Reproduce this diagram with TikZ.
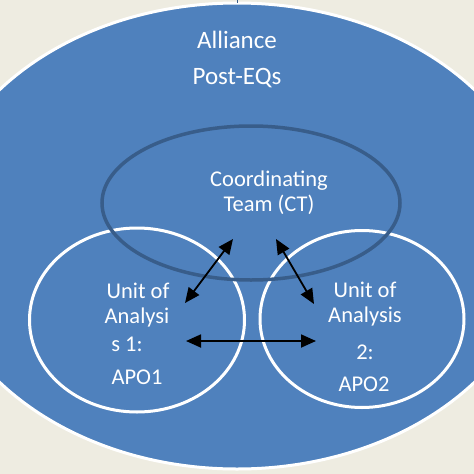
\documentclass[tikz,border=0pt]{standalone}
\usepackage{fontspec}
\setmainfont{Carlito}
\usetikzlibrary{shapes.geometric,arrows.meta}

\definecolor{bgtan}{HTML}{EEECE1}
\definecolor{ablue}{HTML}{4F81BD}
\definecolor{ctblue}{HTML}{385D8A}

\tikzset{
	oval/.style={ellipse, inner sep=0pt, outer sep=0pt, line width=3pt},
	lbl/.style={text=white, font=\fontsize{22.5}{25}\selectfont, text height=15pt, text depth=4pt, inner sep=0pt},
	biglbl/.style={lbl, font=\fontsize{25}{28}\selectfont, text height=17pt, text depth=5pt},
	link/.style={line width=1.8pt, {Triangle[length=15pt,width=13pt]}-{Triangle[length=15pt,width=13pt]}}
}

\begin{document}
\begin{tikzpicture}[x=1pt,y=-1pt]
	
	\useasboundingbox (0,0) rectangle (474,474);
	\clip (0,0) rectangle (474,474);
	\fill[bgtan] (0,0) rectangle (474,474);
	
	\draw[white, fill=ablue, line width=3pt] (237,236) ellipse [x radius=305, y radius=233];
	\coordinate (alltop) at (237,3);
	\draw[ctblue, line width=0.8pt] (237,0) -- (alltop);
	\node[biglbl] (all1) at (237,42) {Alliance}; \node[biglbl] (all2) at (237,78) {Post-EQs};
	
	\node[oval, draw=white, minimum width=215pt, minimum height=184pt] (unit1) at (137,320) {};
	\node[oval, draw=white, minimum width=204pt, minimum height=177pt] (unit2) at (362,319) {};
	\node[oval, draw=ctblue, line width=3.5pt, minimum width=298pt, minimum height=154pt] (ct) at (251,203) {};
	
	\node[lbl, align=center] (ctlbl) at (269,206) {Coordinating\\Team (CT)};
	
	\node[lbl] (u1a) at (138,293) {Unit of}; \node[lbl] (u1b) at (137,318) {Analysi};
	\node[lbl] (u1c) at (127,346) {s 1:}; \node[lbl] (u1d) at (137,379) {APO1};
	
	\node[lbl] (u2a) at (365,292) {Unit of}; \node[lbl] (u2b) at (365,317) {Analysis};
	\node[lbl] (u2c) at (365,354) {2:}; \node[lbl] (u2d) at (364,386) {APO2};
	
	\coordinate (ctl) at (233,239); \coordinate (ctr) at (276,239);
	\coordinate (u1t) at (185,303); \coordinate (u2t) at (314,304);
	\coordinate (u1m) at (186,341); \coordinate (u2m) at (316,341);
	
	\draw[link] (u1t) -- (ctl);
	\draw[link] (ctr) -- (u2t);
	\draw[link] (u1m) -- (u2m);
	
\end{tikzpicture}
\end{document}
